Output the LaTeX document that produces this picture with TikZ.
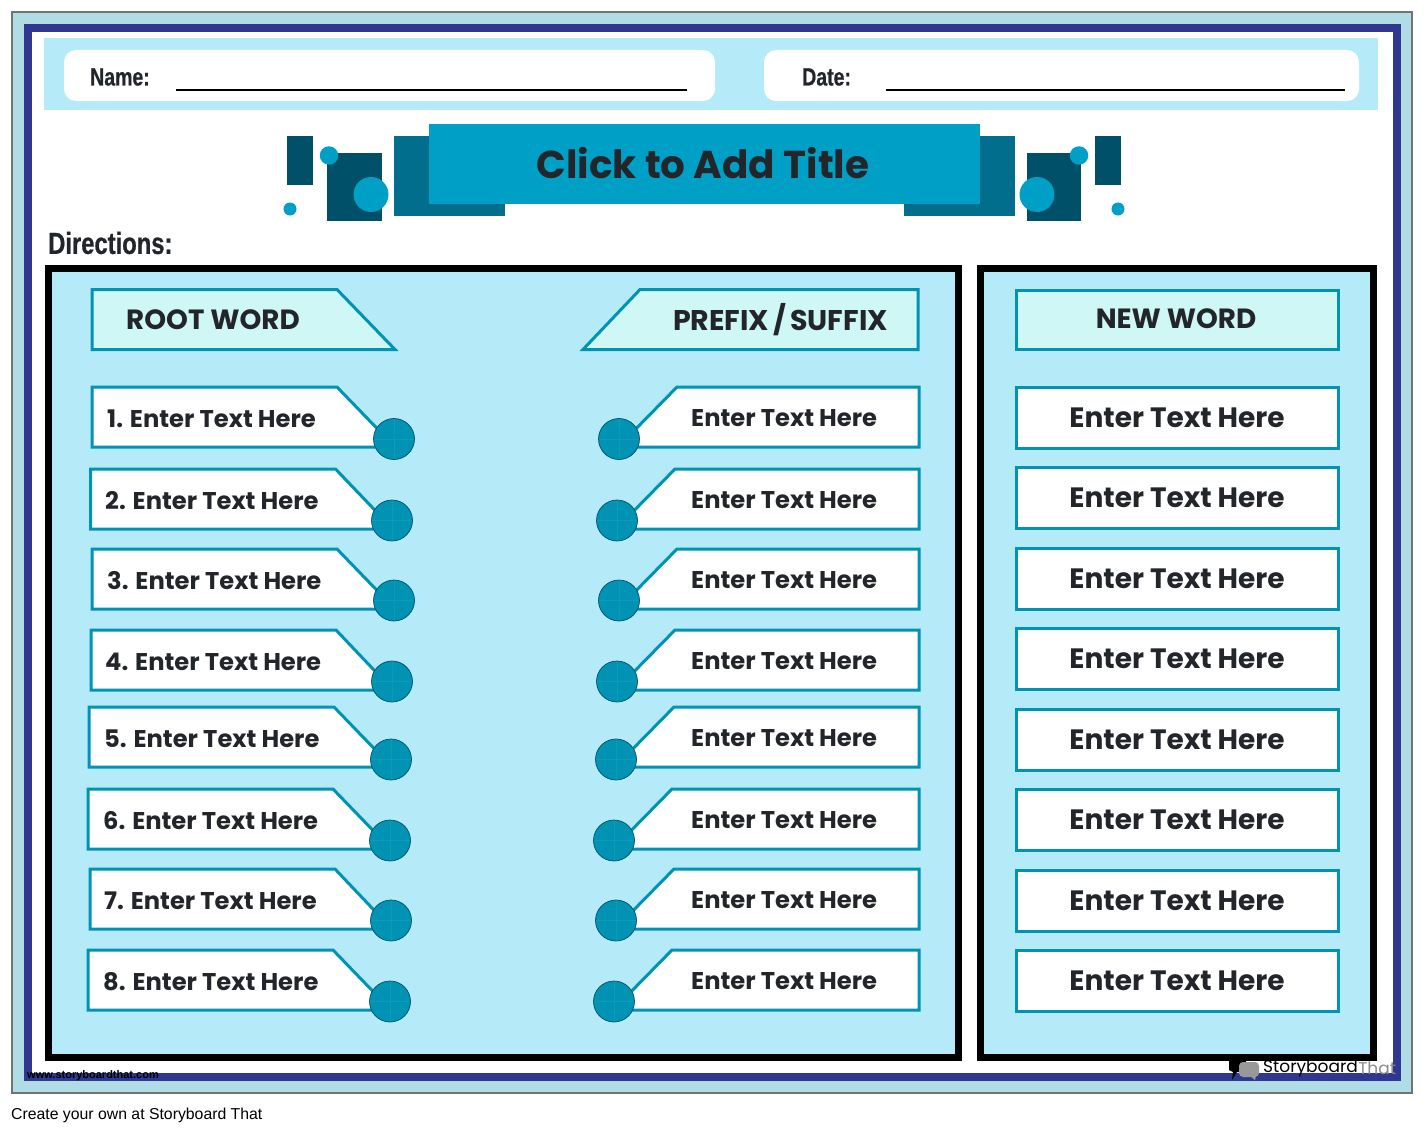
\documentclass[tikz,border=0pt]{standalone}
\usepackage{fontspec}
\setmainfont{Poppins}[BoldFont={Poppins Bold}]
\newfontfamily\condf{Liberation Sans}[FakeStretch=0.78,BoldFeatures={FakeBold=0.6}]
\newfontfamily\armo{Liberation Sans}
\newfontfamily\popm{Poppins}
\definecolor{ink}{HTML}{22262B}
\definecolor{edgeblue}{HTML}{0093B4}
\definecolor{pale}{HTML}{B5EBF9}
\definecolor{mint}{HTML}{CFF7F5}
\definecolor{navy}{HTML}{2F3790}
\definecolor{outer}{HTML}{B0DCE6}
\definecolor{banner}{HTML}{00A0C6}
\definecolor{midb}{HTML}{006E8C}
\definecolor{darkb}{HTML}{00506A}
\tikzset{
  x=1pt,y=-1pt,
  txt/.style={inner sep=0pt,text=ink,font=\bfseries\fontsize{27.8}{30}\selectfont},
  lab/.style={inner sep=0pt,text=ink,anchor=west,font=\bfseries\fontsize{24.2}{26}\selectfont},
  entry/.style={draw=edgeblue,line width=3pt,fill=white},
  head/.style={draw=edgeblue,line width=3pt,fill=mint,miter limit=10},
  knob/.style={circle,draw=darkb,line width=.7pt,fill=edgeblue,minimum size=41pt,inner sep=0pt},
  deco/.style={circle,fill=banner,inner sep=0pt},
  formlab/.style={inner sep=0pt,text=ink,anchor=west,font=\condf\bfseries\fontsize{25}{28}\selectfont},
}
\begin{document}
\begin{tikzpicture}
\useasboundingbox (0,0) rectangle (1425,1132);
\fill[white] (0,0) rectangle (1425,1132);
% frames
\draw[draw=black!55,fill=outer,line width=2pt] (12,12) rectangle (1412,1093);
\draw[draw=navy,fill=white,line width=8pt] (28,28) rectangle (1397,1077);
\fill[pale] (44,38) rectangle (1378,110);
\fill[white,rounded corners=12pt] (64,50) rectangle (715,101);
\fill[white,rounded corners=12pt] (764,50) rectangle (1359,101);
\node[formlab] (name) at (90,77) {Name:};
\node[formlab] (date) at (802,77) {Date:};
\coordinate (n1) at (176,90); \coordinate (n2) at (687,90);
\coordinate (d1) at (886,90); \coordinate (d2) at (1345,90);
\draw[black,line width=2.5pt] (n1) -- (n2);
\draw[black,line width=2.5pt] (d1) -- (d2);
% title decoration
\fill[darkb] (287,136) rectangle (313,185);
\fill[darkb] (327,153) rectangle (382,221);
\fill[midb] (394,136) rectangle (505,216);
\fill[darkb] (1095,136) rectangle (1121,185);
\fill[darkb] (1027,153) rectangle (1081,221);
\fill[midb] (904,136) rectangle (1015,216);
\node[deco,minimum size=35pt] (c1) at (371,194.5) {};
\node[deco,minimum size=18.5pt] (c2) at (329,155.5) {};
\node[deco,minimum size=13pt] (c3) at (290,209) {};
\node[deco,minimum size=35pt] (c4) at (1037,194.5) {};
\node[deco,minimum size=18.5pt] (c5) at (1079,155.5) {};
\node[deco,minimum size=13pt] (c6) at (1118,209) {};
\fill[banner] (429,124) rectangle (980,204);
\node[inner sep=0pt,text=ink,font=\bfseries\fontsize{38.9}{42}\selectfont] (title) at (703,163) {Click to Add Title};
\node[formlab,font=\condf\bfseries\fontsize{30.5}{34}\selectfont] (dir) at (48,243) {Directions:};
% panels
\draw[black,fill=pale,line width=7pt] (48.5,268.5) rectangle (958.5,1057);
\draw[black,fill=pale,line width=7pt] (980.5,268.5) rectangle (1373.5,1057);
% headers
\draw[head] (92,289.5) -- (337,289.5) -- (395,349.5) -- (92,349.5) -- cycle;
\node[lab,font=\bfseries\fontsize{27.8}{30}\selectfont] (hroot) at (126,319.5) {ROOT WORD};
\draw[head] (918,289.5) -- (640,289.5) -- (583,349.5) -- (918,349.5) -- cycle;
\node[lab,font=\bfseries\fontsize{28.5}{30}\selectfont] (hpre) at (673,319.5) {PREFIX\kern4pt/\kern4pt SUFFIX};
\draw[head] (1016,290.5) rectangle (1338,349);
\node[txt] (hnew) at (1176,318.5) {NEW WORD};
% left column: index/left/top/cx/cy/textx
\foreach \i/\lx/\ty/\cx/\cy/\tx in {
 1/92/387/394/439/107, 2/90.5/469/392/520.5/105, 3/92/549/394/600.5/107, 4/91/630/392/681.5/105,
 5/89/707/391/759.5/104, 6/88/789/390/840.5/103, 7/90/869/391/920.5/104, 8/88/950/390/1001.5/103}{
  \draw[entry] (\lx,\ty) -- ({\lx+245},\ty) -- (\cx,{\ty+59}) -- (\cx,{\ty+60}) -- (\lx,{\ty+60}) -- cycle;
  \node[knob] (lk\i) at (\cx,\cy) {};
  \draw[white,opacity=.06,line width=.6pt] (lk\i.west) -- (lk\i.east) (lk\i.north) -- (lk\i.south);
  \node[lab] (lt\i) at (\tx,{\ty+31.5}) {\i. Enter Text Here};
}
% middle column
\foreach \i/\ty/\cx/\cy in {
 1/387/619/439, 2/469/617/520.5, 3/549/619/600.5, 4/630/617/681.5,
 5/707/616/759.5, 6/789/614/840.5, 7/869/616/920.5, 8/950/614/1001.5}{
  \draw[entry] (919,\ty) -- ({\cx+58},\ty) -- (\cx,{\ty+59}) -- (\cx,{\ty+60}) -- (919,{\ty+60}) -- cycle;
  \node[knob] (mk\i) at (\cx,\cy) {};
  \draw[white,opacity=.06,line width=.6pt] (mk\i.west) -- (mk\i.east) (mk\i.north) -- (mk\i.south);
  \node[lab] (mt\i) at (691,{\ty+31.5}) {Enter Text Here};
}
% right column
\foreach \i/\ty in {1/385.5,2/466,3/546.5,4/627,5/707.5,6/788,7/868.5,8/948.5}{
  \node[entry,rectangle,inner sep=0pt,minimum width=322pt,minimum height=61pt,anchor=north west,
        text=ink,font=\bfseries\fontsize{28}{30}\selectfont] (r\i) at (1014.5,\ty) {Enter Text Here};
}
% credit
\node[inner sep=0pt,anchor=west,text=black,font=\armo\bfseries\fontsize{11}{12}\selectfont] (www) at (27,1075.5) {www.storyboardthat.com};
\node[inner sep=0pt,anchor=west,text=black,font=\armo\fontsize{15.8}{18}\selectfont] (create) at (11,1115) {Create your own at Storyboard That};
% logo
\fill[black] (1229,1060) -- (1246,1060) -- (1246,1072) -- (1237,1072) -- (1232,1080) -- (1233,1072) -- (1229,1070) -- cycle;
\fill[black!40,rounded corners=4pt] (1239,1062) rectangle (1259,1077);
\fill[black!40] (1250,1076) -- (1256,1076) -- (1255,1080) -- cycle;
\node[inner sep=0pt,anchor=west,text=black,font=\popm\fontsize{17}{20}\selectfont] (sb) at (1263,1068) {Storyboard};
\node[inner sep=0pt,anchor=west,text=black!45,font=\popm\fontsize{17}{20}\selectfont] (th) at (sb.east) {That};
\end{tikzpicture}
\end{document}
